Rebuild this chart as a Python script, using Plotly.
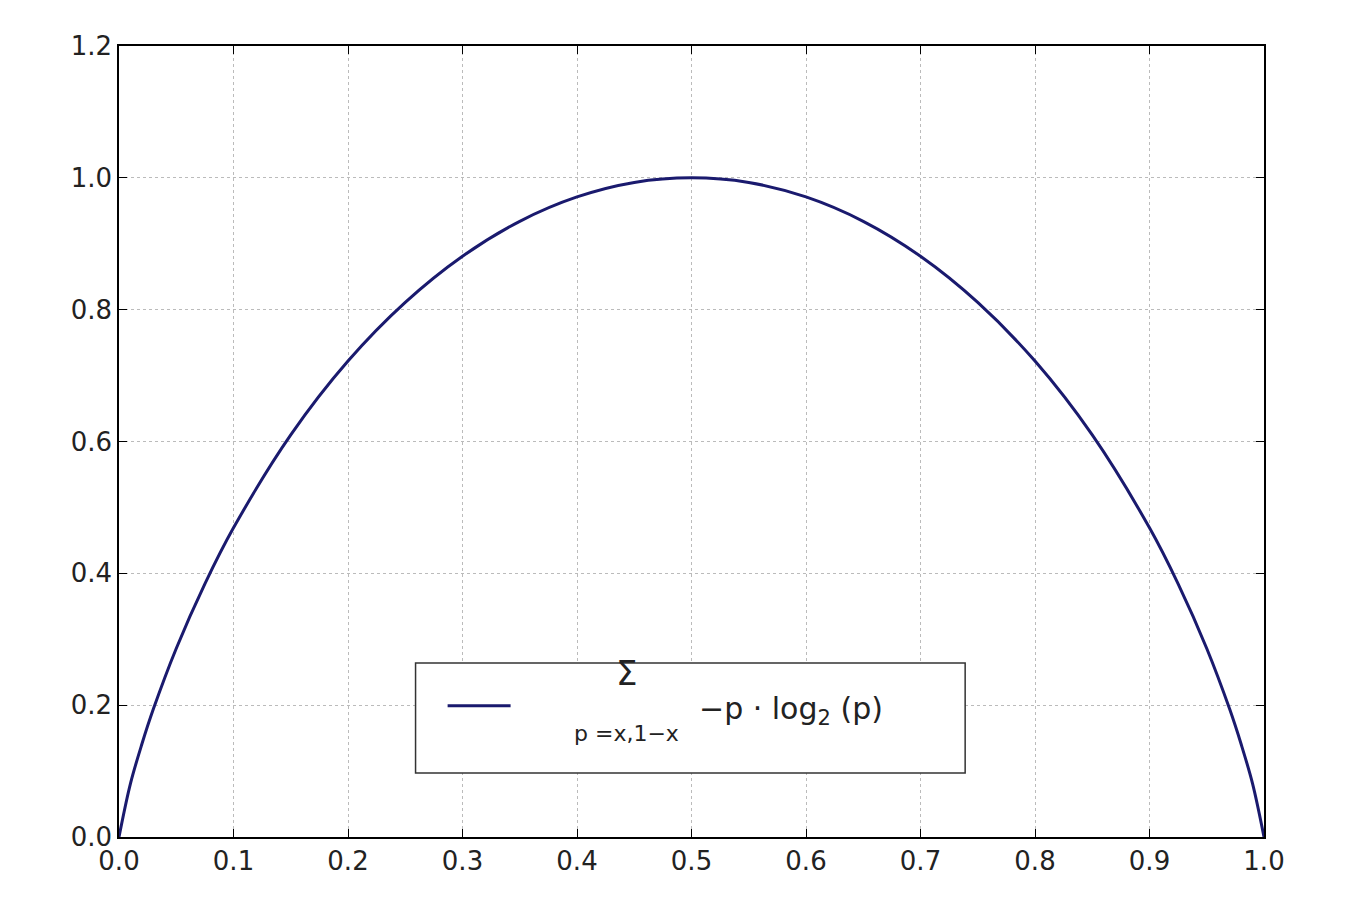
import plotly.graph_objects as go

# values
x_vals = [0.0, 0.01, 0.02, 0.03, 0.05, 0.075, 0.1, 0.15, 0.2, 0.25, 0.3, 0.35, 0.4, 0.45, 0.5,
          0.55, 0.6, 0.65, 0.7, 0.75, 0.8, 0.85, 0.9, 0.925, 0.95, 0.97, 0.98, 0.99, 1.0]
y_vals = [0.0, 0.081, 0.141, 0.194, 0.286, 0.384, 0.469, 0.610, 0.722, 0.811, 0.881, 0.934, 0.971, 0.993, 1.0,
          0.993, 0.971, 0.934, 0.881, 0.811, 0.722, 0.610, 0.469, 0.384, 0.286, 0.194, 0.141, 0.081, 0.0]
x_ticks = [0.0, 0.1, 0.2, 0.3, 0.4, 0.5, 0.6, 0.7, 0.8, 0.9, 1.0]
y_ticks = [0.0, 0.2, 0.4, 0.6, 0.8, 1.0, 1.2]

navy = "#1a1a6e"
font = dict(family="DejaVu Sans", size=26, color="#222")

fig = go.Figure(go.Scatter(x=x_vals, y=y_vals, mode="lines", line=dict(color=navy, width=3, shape="spline"),
                           showlegend=False))

axis = dict(showgrid=True, gridcolor="#bbbbbb", griddash="dot", gridwidth=1, zeroline=False,
            showline=True, linecolor="black", linewidth=1.5, mirror="ticks", ticks="inside",
            ticklen=8, tickcolor="black", tickfont=font)
fig.update_xaxes(range=[0, 1], tickvals=x_ticks, ticktext=[f"{v:.1f}" for v in x_ticks], **axis)
fig.update_yaxes(range=[0, 1.2], tickvals=y_ticks, ticktext=[f"{v:.1f}" for v in y_ticks], **axis)

# legend box drawn by hand to keep the sigma layout
fig.add_shape(type="rect", xref="paper", yref="paper", x0=0.259, x1=0.739, y0=0.081, y1=0.22,
              line=dict(color="#333", width=1.5), fillcolor="white")
fig.add_shape(type="line", xref="paper", yref="paper", x0=0.287, x1=0.342, y0=0.166, y1=0.166,
              line=dict(color=navy, width=3))
fig.add_annotation(xref="paper", yref="paper", x=0.443, y=0.18, text="Σ", showarrow=False,
                   font=dict(family="DejaVu Sans", size=34, color="#222"))
fig.add_annotation(xref="paper", yref="paper", x=0.443, y=0.112, text="p =x,1−x", showarrow=False,
                   font=dict(family="DejaVu Sans", size=22, color="#222"))
fig.add_annotation(xref="paper", yref="paper", x=0.505, y=0.16, xanchor="left", yanchor="middle",
                   text="−p · log<sub>2</sub> (p)", showarrow=False, font=dict(family="DejaVu Sans", size=30, color="#222"))

fig.update_layout(width=1346, height=900, plot_bgcolor="white", paper_bgcolor="white",
                  margin=dict(l=111, r=90, t=38, b=71))
fig.write_html("out.html")
